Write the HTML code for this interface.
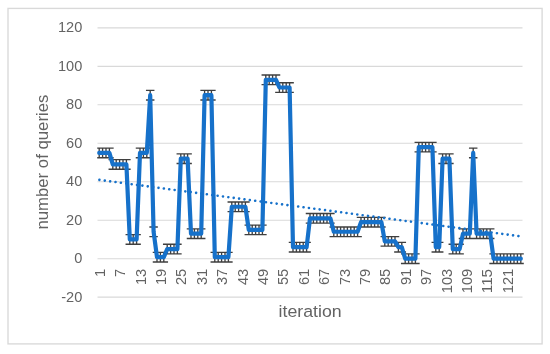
<!DOCTYPE html>
<html lang="en"><head><meta charset="utf-8"><title>number of queries per iteration</title>
<style>html,body{margin:0;padding:0;background:#fff}body{width:550px;height:354px;overflow:hidden}svg text{font-family:"Liberation Sans", Arial, sans-serif}</style>
</head><body>
<svg width="550" height="354" viewBox="0 0 550 354" style="display:block">
<rect x="0" y="0" width="550" height="354" fill="#fff"/>
<rect x="8" y="8.4" width="534.1" height="335.5" fill="#fff" stroke="#d9d9d9" stroke-width="1.35"/>
<path d="M97.5 297.17H522.5 M97.5 258.70H522.5 M97.5 220.23H522.5 M97.5 181.76H522.5 M97.5 143.28H522.5 M97.5 104.81H522.5 M97.5 66.34H522.5 M97.5 27.87H522.5" stroke="#d9d9d9" stroke-width="1.1" fill="none"/>
<text x="61.20" y="301.77" font-size="15" textLength="21.1" lengthAdjust="spacingAndGlyphs" fill="#636363">-20</text>
<text x="74.20" y="263.30" font-size="15" textLength="8.1" lengthAdjust="spacingAndGlyphs" fill="#636363">0</text>
<text x="66.10" y="224.83" font-size="15" textLength="16.2" lengthAdjust="spacingAndGlyphs" fill="#636363">20</text>
<text x="66.10" y="186.36" font-size="15" textLength="16.2" lengthAdjust="spacingAndGlyphs" fill="#636363">40</text>
<text x="66.10" y="147.88" font-size="15" textLength="16.2" lengthAdjust="spacingAndGlyphs" fill="#636363">60</text>
<text x="66.10" y="109.41" font-size="15" textLength="16.2" lengthAdjust="spacingAndGlyphs" fill="#636363">80</text>
<text x="58.00" y="70.94" font-size="15" textLength="24.3" lengthAdjust="spacingAndGlyphs" fill="#636363">100</text>
<text x="58.00" y="32.47" font-size="15" textLength="24.3" lengthAdjust="spacingAndGlyphs" fill="#636363">120</text>
<clipPath id="c"><rect x="97.2" y="20" width="426.6" height="285"/></clipPath>
<path d="M99.20 148.10V157.70M94.95 148.10H103.45M94.95 157.70H103.45M102.60 148.10V157.70M98.35 148.10H106.85M98.35 157.70H106.85M106.00 148.10V157.70M101.75 148.10H110.25M101.75 157.70H110.25M109.40 148.10V157.70M105.15 148.10H113.65M105.15 157.70H113.65M112.80 159.64V169.24M108.55 159.64H117.05M108.55 169.24H117.05M116.20 159.64V169.24M111.95 159.64H120.45M111.95 169.24H120.45M119.60 159.64V169.24M115.35 159.64H123.85M115.35 169.24H123.85M123.00 159.64V169.24M118.75 159.64H127.25M118.75 169.24H127.25M126.40 159.64V169.24M122.15 159.64H130.65M122.15 169.24H130.65M129.80 234.66V244.26M125.55 234.66H134.05M125.55 244.26H134.05M133.20 234.66V244.26M128.95 234.66H137.45M128.95 244.26H137.45M136.60 234.66V244.26M132.35 234.66H140.85M132.35 244.26H140.85M140.00 148.10V157.70M135.75 148.10H144.25M135.75 157.70H144.25M143.40 148.10V157.70M139.15 148.10H147.65M139.15 157.70H147.65M146.80 148.10V157.70M142.55 148.10H151.05M142.55 157.70H151.05M150.20 90.39V99.99M145.95 90.39H154.45M145.95 99.99H154.45M153.60 226.97V236.57M149.35 226.97H157.85M149.35 236.57H157.85M157.00 252.36V261.96M152.75 252.36H161.25M152.75 261.96H161.25M160.40 252.36V261.96M156.15 252.36H164.65M156.15 261.96H164.65M163.80 252.36V261.96M159.55 252.36H168.05M159.55 261.96H168.05M167.20 244.28V253.88M162.95 244.28H171.45M162.95 253.88H171.45M170.60 244.28V253.88M166.35 244.28H174.85M166.35 253.88H174.85M174.00 244.28V253.88M169.75 244.28H178.25M169.75 253.88H178.25M177.40 244.28V253.88M173.15 244.28H181.65M173.15 253.88H181.65M180.80 153.87V163.47M176.55 153.87H185.05M176.55 163.47H185.05M184.20 153.87V163.47M179.95 153.87H188.45M179.95 163.47H188.45M187.60 153.87V163.47M183.35 153.87H191.85M183.35 163.47H191.85M191.00 228.89V238.49M186.75 228.89H195.25M186.75 238.49H195.25M194.40 228.89V238.49M190.15 228.89H198.65M190.15 238.49H198.65M197.80 228.89V238.49M193.55 228.89H202.05M193.55 238.49H202.05M201.20 228.89V238.49M196.95 228.89H205.45M196.95 238.49H205.45M204.60 90.39V99.99M200.35 90.39H208.85M200.35 99.99H208.85M208.00 90.39V99.99M203.75 90.39H212.25M203.75 99.99H212.25M211.40 90.39V99.99M207.15 90.39H215.65M207.15 99.99H215.65M214.80 252.36V261.96M210.55 252.36H219.05M210.55 261.96H219.05M218.20 252.36V261.96M213.95 252.36H222.45M213.95 261.96H222.45M221.60 252.36V261.96M217.35 252.36H225.85M217.35 261.96H225.85M225.00 252.36V261.96M220.75 252.36H229.25M220.75 261.96H229.25M228.40 252.36V261.96M224.15 252.36H232.65M224.15 261.96H232.65M231.80 201.96V211.56M227.55 201.96H236.05M227.55 211.56H236.05M235.20 201.96V211.56M230.95 201.96H239.45M230.95 211.56H239.45M238.60 201.96V211.56M234.35 201.96H242.85M234.35 211.56H242.85M242.00 201.96V211.56M237.75 201.96H246.25M237.75 211.56H246.25M245.40 201.96V211.56M241.15 201.96H249.65M241.15 211.56H249.65M248.80 225.05V234.65M244.55 225.05H253.05M244.55 234.65H253.05M252.20 225.05V234.65M247.95 225.05H256.45M247.95 234.65H256.45M255.60 225.05V234.65M251.35 225.05H259.85M251.35 234.65H259.85M259.00 225.05V234.65M254.75 225.05H263.25M254.75 234.65H263.25M262.40 225.05V234.65M258.15 225.05H266.65M258.15 234.65H266.65M265.80 75.01V84.61M261.55 75.01H270.05M261.55 84.61H270.05M269.20 75.01V84.61M264.95 75.01H273.45M264.95 84.61H273.45M272.60 75.01V84.61M268.35 75.01H276.85M268.35 84.61H276.85M276.00 75.01V84.61M271.75 75.01H280.25M271.75 84.61H280.25M279.40 82.70V92.30M275.15 82.70H283.65M275.15 92.30H283.65M282.80 82.70V92.30M278.55 82.70H287.05M278.55 92.30H287.05M286.20 82.70V92.30M281.95 82.70H290.45M281.95 92.30H290.45M289.60 82.70V92.30M285.35 82.70H293.85M285.35 92.30H293.85M293.00 242.36V251.96M288.75 242.36H297.25M288.75 251.96H297.25M296.40 242.36V251.96M292.15 242.36H300.65M292.15 251.96H300.65M299.80 242.36V251.96M295.55 242.36H304.05M295.55 251.96H304.05M303.20 242.36V251.96M298.95 242.36H307.45M298.95 251.96H307.45M306.60 242.36V251.96M302.35 242.36H310.85M302.35 251.96H310.85M310.00 213.50V223.10M305.75 213.50H314.25M305.75 223.10H314.25M313.40 213.50V223.10M309.15 213.50H317.65M309.15 223.10H317.65M316.80 213.50V223.10M312.55 213.50H321.05M312.55 223.10H321.05M320.20 213.50V223.10M315.95 213.50H324.45M315.95 223.10H324.45M323.60 213.50V223.10M319.35 213.50H327.85M319.35 223.10H327.85M327.00 213.50V223.10M322.75 213.50H331.25M322.75 223.10H331.25M330.40 213.50V223.10M326.15 213.50H334.65M326.15 223.10H334.65M333.80 226.97V236.57M329.55 226.97H338.05M329.55 236.57H338.05M337.20 226.97V236.57M332.95 226.97H341.45M332.95 236.57H341.45M340.60 226.97V236.57M336.35 226.97H344.85M336.35 236.57H344.85M344.00 226.97V236.57M339.75 226.97H348.25M339.75 236.57H348.25M347.40 226.97V236.57M343.15 226.97H351.65M343.15 236.57H351.65M350.80 226.97V236.57M346.55 226.97H355.05M346.55 236.57H355.05M354.20 226.97V236.57M349.95 226.97H358.45M349.95 236.57H358.45M357.60 226.97V236.57M353.35 226.97H361.85M353.35 236.57H361.85M361.00 217.35V226.95M356.75 217.35H365.25M356.75 226.95H365.25M364.40 217.35V226.95M360.15 217.35H368.65M360.15 226.95H368.65M367.80 217.35V226.95M363.55 217.35H372.05M363.55 226.95H372.05M371.20 217.35V226.95M366.95 217.35H375.45M366.95 226.95H375.45M374.60 217.35V226.95M370.35 217.35H378.85M370.35 226.95H378.85M378.00 217.35V226.95M373.75 217.35H382.25M373.75 226.95H382.25M381.40 217.35V226.95M377.15 217.35H385.65M377.15 226.95H385.65M384.80 236.59V246.19M380.55 236.59H389.05M380.55 246.19H389.05M388.20 236.59V246.19M383.95 236.59H392.45M383.95 246.19H392.45M391.60 236.59V246.19M387.35 236.59H395.85M387.35 246.19H395.85M395.00 236.59V246.19M390.75 236.59H399.25M390.75 246.19H399.25M398.40 242.36V251.96M394.15 242.36H402.65M394.15 251.96H402.65M401.80 242.36V251.96M397.55 242.36H406.05M397.55 251.96H406.05M405.20 253.90V263.50M400.95 253.90H409.45M400.95 263.50H409.45M408.60 253.90V263.50M404.35 253.90H412.85M404.35 263.50H412.85M412.00 253.90V263.50M407.75 253.90H416.25M407.75 263.50H416.25M415.40 253.90V263.50M411.15 253.90H419.65M411.15 263.50H419.65M418.80 142.33V151.93M414.55 142.33H423.05M414.55 151.93H423.05M422.20 142.33V151.93M417.95 142.33H426.45M417.95 151.93H426.45M425.60 142.33V151.93M421.35 142.33H429.85M421.35 151.93H429.85M429.00 142.33V151.93M424.75 142.33H433.25M424.75 151.93H433.25M432.40 142.33V151.93M428.15 142.33H436.65M428.15 151.93H436.65M435.80 242.36V251.96M431.55 242.36H440.05M431.55 251.96H440.05M439.20 242.36V251.96M434.95 242.36H443.45M434.95 251.96H443.45M442.60 153.87V163.47M438.35 153.87H446.85M438.35 163.47H446.85M446.00 153.87V163.47M441.75 153.87H450.25M441.75 163.47H450.25M449.40 153.87V163.47M445.15 153.87H453.65M445.15 163.47H453.65M452.80 244.28V253.88M448.55 244.28H457.05M448.55 253.88H457.05M456.20 244.28V253.88M451.95 244.28H460.45M451.95 253.88H460.45M459.60 244.28V253.88M455.35 244.28H463.85M455.35 253.88H463.85M463.00 228.89V238.49M458.75 228.89H467.25M458.75 238.49H467.25M466.40 228.89V238.49M462.15 228.89H470.65M462.15 238.49H470.65M469.80 228.89V238.49M465.55 228.89H474.05M465.55 238.49H474.05M473.20 148.10V157.70M468.95 148.10H477.45M468.95 157.70H477.45M476.60 228.89V238.49M472.35 228.89H480.85M472.35 238.49H480.85M480.00 228.89V238.49M475.75 228.89H484.25M475.75 238.49H484.25M483.40 228.89V238.49M479.15 228.89H487.65M479.15 238.49H487.65M486.80 228.89V238.49M482.55 228.89H491.05M482.55 238.49H491.05M490.20 228.89V238.49M485.95 228.89H494.45M485.95 238.49H494.45M493.60 253.90V263.50M489.35 253.90H497.85M489.35 263.50H497.85M497.00 253.90V263.50M492.75 253.90H501.25M492.75 263.50H501.25M500.40 253.90V263.50M496.15 253.90H504.65M496.15 263.50H504.65M503.80 253.90V263.50M499.55 253.90H508.05M499.55 263.50H508.05M507.20 253.90V263.50M502.95 253.90H511.45M502.95 263.50H511.45M510.60 253.90V263.50M506.35 253.90H514.85M506.35 263.50H514.85M514.00 253.90V263.50M509.75 253.90H518.25M509.75 263.50H518.25M517.40 253.90V263.50M513.15 253.90H521.65M513.15 263.50H521.65M520.80 253.90V263.50M516.55 253.90H525.05M516.55 263.50H525.05" stroke="#3f3f3f" stroke-width="1.35" fill="none" clip-path="url(#c)"/>
<polyline points="99.20,152.90 102.60,152.90 106.00,152.90 109.40,152.90 112.80,164.44 116.20,164.44 119.60,164.44 123.00,164.44 126.40,164.44 129.80,239.46 133.20,239.46 136.60,239.46 140.00,152.90 143.40,152.90 146.80,152.90 150.20,95.19 153.60,231.77 157.00,257.16 160.40,257.16 163.80,257.16 167.20,249.08 170.60,249.08 174.00,249.08 177.40,249.08 180.80,158.67 184.20,158.67 187.60,158.67 191.00,233.69 194.40,233.69 197.80,233.69 201.20,233.69 204.60,95.19 208.00,95.19 211.40,95.19 214.80,257.16 218.20,257.16 221.60,257.16 225.00,257.16 228.40,257.16 231.80,206.76 235.20,206.76 238.60,206.76 242.00,206.76 245.40,206.76 248.80,229.85 252.20,229.85 255.60,229.85 259.00,229.85 262.40,229.85 265.80,79.81 269.20,79.81 272.60,79.81 276.00,79.81 279.40,87.50 282.80,87.50 286.20,87.50 289.60,87.50 293.00,247.16 296.40,247.16 299.80,247.16 303.20,247.16 306.60,247.16 310.00,218.30 313.40,218.30 316.80,218.30 320.20,218.30 323.60,218.30 327.00,218.30 330.40,218.30 333.80,231.77 337.20,231.77 340.60,231.77 344.00,231.77 347.40,231.77 350.80,231.77 354.20,231.77 357.60,231.77 361.00,222.15 364.40,222.15 367.80,222.15 371.20,222.15 374.60,222.15 378.00,222.15 381.40,222.15 384.80,241.39 388.20,241.39 391.60,241.39 395.00,241.39 398.40,247.16 401.80,247.16 405.20,258.70 408.60,258.70 412.00,258.70 415.40,258.70 418.80,147.13 422.20,147.13 425.60,147.13 429.00,147.13 432.40,147.13 435.80,247.16 439.20,247.16 442.60,158.67 446.00,158.67 449.40,158.67 452.80,249.08 456.20,249.08 459.60,249.08 463.00,233.69 466.40,233.69 469.80,233.69 473.20,152.90 476.60,233.69 480.00,233.69 483.40,233.69 486.80,233.69 490.20,233.69 493.60,258.70 497.00,258.70 500.40,258.70 503.80,258.70 507.20,258.70 510.60,258.70 514.00,258.70 517.40,258.70 520.80,258.70" fill="none" stroke="#1671ca" stroke-width="4.2" stroke-linejoin="round" stroke-linecap="round"/>
<line x1="99.4" y1="179.9" x2="520.80" y2="236.4" stroke="#1671ca" stroke-width="2.6" stroke-linecap="round" stroke-dasharray="0.01 5.41"/>
<text transform="translate(104.80 277.00) rotate(-90)" font-size="15" textLength="8.1" lengthAdjust="spacingAndGlyphs" fill="#636363">1</text>
<text transform="translate(125.20 277.00) rotate(-90)" font-size="15" textLength="8.1" lengthAdjust="spacingAndGlyphs" fill="#636363">7</text>
<text transform="translate(145.60 285.10) rotate(-90)" font-size="15" textLength="16.2" lengthAdjust="spacingAndGlyphs" fill="#636363">13</text>
<text transform="translate(166.00 285.10) rotate(-90)" font-size="15" textLength="16.2" lengthAdjust="spacingAndGlyphs" fill="#636363">19</text>
<text transform="translate(186.40 285.10) rotate(-90)" font-size="15" textLength="16.2" lengthAdjust="spacingAndGlyphs" fill="#636363">25</text>
<text transform="translate(206.80 285.10) rotate(-90)" font-size="15" textLength="16.2" lengthAdjust="spacingAndGlyphs" fill="#636363">31</text>
<text transform="translate(227.20 285.10) rotate(-90)" font-size="15" textLength="16.2" lengthAdjust="spacingAndGlyphs" fill="#636363">37</text>
<text transform="translate(247.60 285.10) rotate(-90)" font-size="15" textLength="16.2" lengthAdjust="spacingAndGlyphs" fill="#636363">43</text>
<text transform="translate(268.00 285.10) rotate(-90)" font-size="15" textLength="16.2" lengthAdjust="spacingAndGlyphs" fill="#636363">49</text>
<text transform="translate(288.40 285.10) rotate(-90)" font-size="15" textLength="16.2" lengthAdjust="spacingAndGlyphs" fill="#636363">55</text>
<text transform="translate(308.80 285.10) rotate(-90)" font-size="15" textLength="16.2" lengthAdjust="spacingAndGlyphs" fill="#636363">61</text>
<text transform="translate(329.20 285.10) rotate(-90)" font-size="15" textLength="16.2" lengthAdjust="spacingAndGlyphs" fill="#636363">67</text>
<text transform="translate(349.60 285.10) rotate(-90)" font-size="15" textLength="16.2" lengthAdjust="spacingAndGlyphs" fill="#636363">73</text>
<text transform="translate(370.00 285.10) rotate(-90)" font-size="15" textLength="16.2" lengthAdjust="spacingAndGlyphs" fill="#636363">79</text>
<text transform="translate(390.40 285.10) rotate(-90)" font-size="15" textLength="16.2" lengthAdjust="spacingAndGlyphs" fill="#636363">85</text>
<text transform="translate(410.80 285.10) rotate(-90)" font-size="15" textLength="16.2" lengthAdjust="spacingAndGlyphs" fill="#636363">91</text>
<text transform="translate(431.20 285.10) rotate(-90)" font-size="15" textLength="16.2" lengthAdjust="spacingAndGlyphs" fill="#636363">97</text>
<text transform="translate(451.60 293.20) rotate(-90)" font-size="15" textLength="24.3" lengthAdjust="spacingAndGlyphs" fill="#636363">103</text>
<text transform="translate(472.00 293.20) rotate(-90)" font-size="15" textLength="24.3" lengthAdjust="spacingAndGlyphs" fill="#636363">109</text>
<text transform="translate(492.40 293.20) rotate(-90)" font-size="15" textLength="24.3" lengthAdjust="spacingAndGlyphs" fill="#636363">115</text>
<text transform="translate(512.80 293.20) rotate(-90)" font-size="15" textLength="24.3" lengthAdjust="spacingAndGlyphs" fill="#636363">121</text>
<text x="278.6" y="317" font-size="16.8" textLength="63" lengthAdjust="spacingAndGlyphs" fill="#636363">iteration</text>
<text transform="translate(48 229.6) rotate(-90)" font-size="16.6" textLength="135" lengthAdjust="spacingAndGlyphs" fill="#636363">number of queries</text>
</svg>
</body></html>
